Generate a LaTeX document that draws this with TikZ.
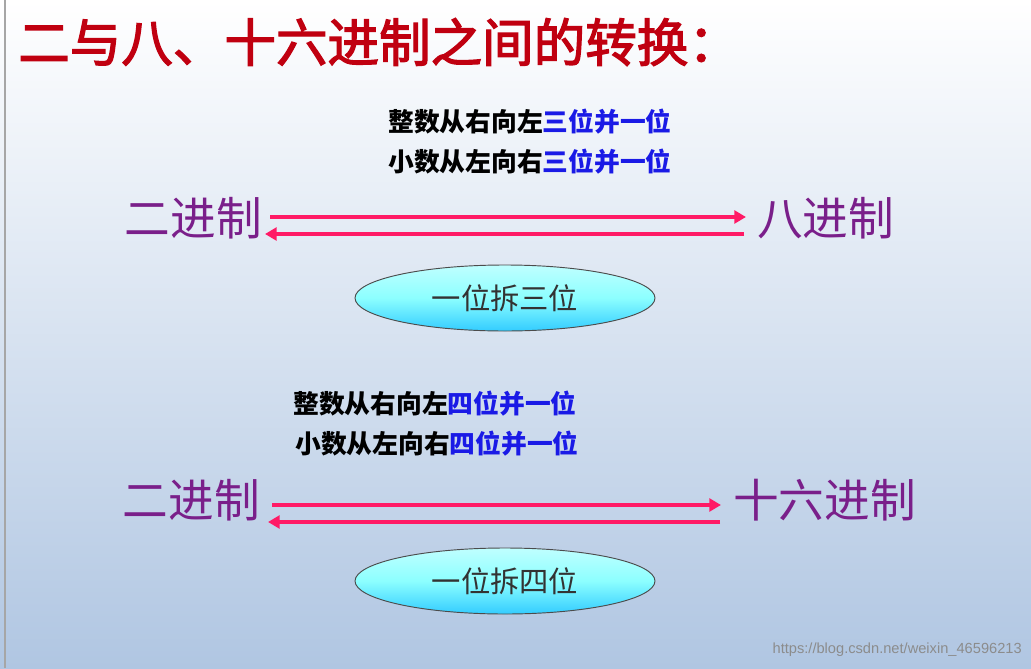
\documentclass[tikz,border=0pt]{standalone}
\usepackage{fontspec}
\newfontfamily\cjk{Noto Sans CJK SC}
\newfontfamily\cjkb{Noto Sans CJK SC}[FakeBold=2.5]
\usetikzlibrary{shapes.geometric,arrows.meta}
\definecolor{ttl}{HTML}{C00010}
\definecolor{purp}{HTML}{7A1F8A}
\definecolor{arr}{HTML}{FF1A66}
\definecolor{blu}{HTML}{1A1AE6}
\tikzset{
  x=0.03cm,y=-0.03cm,
  big/.style={text=purp,font=\cjk\fontsize{39}{41}\selectfont,inner sep=0},
  rule/.style={font=\cjk\bfseries\fontsize{22}{24}\selectfont,inner sep=0},
  link/.style={draw=arr,line width=3.5pt,-{Triangle[length=10pt,width=11pt]}},
  ell/.style={ellipse,draw=black!70,line width=0.8pt,minimum width=300*0.03cm,minimum height=66*0.03cm,top color=cyan!25,bottom color=cyan!75!blue!80,middle color=cyan!45,font=\cjk\fontsize{25}{27}\selectfont,text=black!80}
}
\begin{document}
\begin{tikzpicture}
\shade[top color=white,bottom color={rgb,255:red,176;green,198;blue,226}] (0,0) rectangle (1031,668);
\useasboundingbox (0,0) rectangle (1031,668);
\draw[black!35,line width=1pt] (5,0) -- (5,668);
\node[anchor=west,text=ttl,font=\cjkb\fontsize{44}{46}\selectfont,inner sep=0] (title) at (18,42) {二与八、十六进制之间的转换：};

\node[rule] (r1) at (530,122) {整数从右向左\textcolor{blu}{三位并一位}};
\node[rule] (r2) at (530,162) {小数从左向右\textcolor{blu}{三位并一位}};
\node[big,anchor=east] (b1) at (262,218) {二进制};
\node[big,anchor=west] (o1) at (757,218) {八进制};
\coordinate (a1s) at (270,217); \coordinate (a1e) at (746,217);
\coordinate (a2s) at (744,234); \coordinate (a2e) at (265,234);
\draw[link] (a1s) -- (a1e);
\draw[link] (a2s) -- (a2e);
\node[ell] (e1) at (505,298) {一位拆三位};

\node[rule] (r3) at (435,404) {整数从右向左\textcolor{blu}{四位并一位}};
\node[rule] (r4) at (437,444) {小数从左向右\textcolor{blu}{四位并一位}};
\node[big,anchor=east] (b2) at (260,500) {二进制};
\node[big,anchor=west] (h2) at (733,500) {十六进制};
\coordinate (a3s) at (272,505); \coordinate (a3e) at (721,505);
\coordinate (a4s) at (720,522); \coordinate (a4e) at (268,522);
\draw[link] (a3s) -- (a3e);
\draw[link] (a4s) -- (a4e);
\node[ell] (e2) at (505,581) {一位拆四位};

\node[anchor=east,text=black!45,font=\fontspec{Liberation Sans}\fontsize{12.5}{14}\selectfont,inner sep=0] (wm) at (1022,650) {https://blog.csdn.net/weixin\_46596213};
\end{tikzpicture}
\end{document}
